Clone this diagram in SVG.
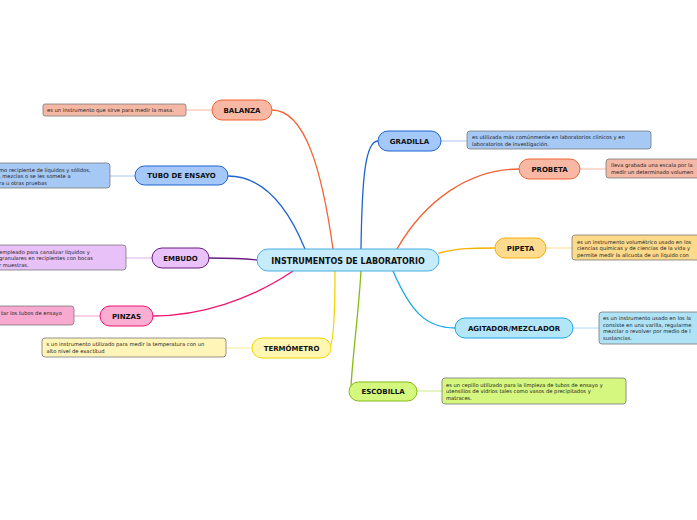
<svg xmlns="http://www.w3.org/2000/svg" width="697" height="520" viewBox="0 0 697 520">
<style>
.bg{fill:#ffffff}
.c{fill:none;stroke-width:1.3;stroke-linecap:round}
.nl{fill:none;stroke-width:1}
.n{stroke-width:1}
.note{stroke:#7a7a7a;stroke-width:0.8}
.t{font-family:"DejaVu Sans",Verdana,sans-serif;font-weight:bold;font-size:7px;fill:#111;text-anchor:middle}
.tc{font-family:"DejaVu Sans",Verdana,sans-serif;font-weight:bold;font-size:8px;fill:#111;text-anchor:middle}
.s{font-family:"DejaVu Sans",Verdana,sans-serif;font-size:5.2px;fill:#222}
</style>
<rect class="bg" x="0" y="0" width="697" height="520"/>
<g id="connectors">
<path class="c" stroke="#f26235" d="M 333 249 C 322 170, 305 110, 272 110"/>
<path class="c" stroke="#1f63d1" d="M 305 249 C 285 200, 260 176, 228 176"/>
<path class="c" stroke="#1f63d1" d="M 361 249 C 362 180, 365 141, 378 141"/>
<path class="c" stroke="#f26235" d="M 397 249 C 425 200, 470 169, 519 169"/>
<path class="c" stroke="#f5b000" d="M 439 253 C 460 248, 470 248, 495 248"/>
<path class="c" stroke="#1ba8e6" d="M 393 271 C 410 310, 425 328, 455 328"/>
<path class="c" stroke="#86bb12" d="M 361 271 C 358 320, 352 360, 351 388"/>
<path class="c" stroke="#f0d500" d="M 335 271 C 335 310, 334 345, 329 348"/>
<path class="c" stroke="#ef1570" d="M 293 271 C 250 300, 200 316, 153 316"/>
<path class="c" stroke="#6a1a80" d="M 257 260 C 240 258, 225 258, 209 258"/>
<line class="nl" stroke="#f7b4a0" x1="186" y1="110" x2="212" y2="110"/>
<line class="nl" stroke="#a6c6f2" x1="110" y1="176" x2="135" y2="176"/>
<line class="nl" stroke="#dab3e8" x1="126" y1="258" x2="152" y2="258"/>
<line class="nl" stroke="#f6a2c8" x1="74" y1="316" x2="100" y2="316"/>
<line class="nl" stroke="#f8ea9a" x1="226" y1="348" x2="252" y2="348"/>
<line class="nl" stroke="#a6c6f2" x1="441" y1="141" x2="467" y2="141"/>
<line class="nl" stroke="#f7b4a0" x1="580" y1="169" x2="606" y2="169"/>
<line class="nl" stroke="#fbdc94" x1="546" y1="248" x2="572" y2="248"/>
<line class="nl" stroke="#a8def2" x1="573" y1="328" x2="599" y2="328"/>
<line class="nl" stroke="#cbe98a" x1="417" y1="391" x2="442" y2="391"/>
</g>
<g id="center">
<rect class="n" x="257" y="249" width="182" height="22" rx="11" fill="#c6ebfa" stroke="#45ade2"/>
<text class="tc" x="348" y="263.8">INSTRUMENTOS DE LABORATORIO</text>
</g>
<g id="balanza">
<rect class="n" x="212" y="100" width="60" height="20" rx="10" fill="#f8b8a3" stroke="#f26235"/>
<text class="t" x="242" y="112.5">BALANZA</text>
<rect class="note" x="43" y="104" width="143" height="12" rx="2" fill="#f5b8a5"/>
<text class="s" x="47" y="111.8">es un instrumento que sirve para medir la masa.</text>
</g>
<g id="tubo">
<rect class="n" x="135" y="166" width="93" height="19" rx="9.5" fill="#a4c8f9" stroke="#1f63d1"/>
<text class="t" x="181.5" y="178">TUBO DE ENSAYO</text>
<rect class="note" x="-10" y="163" width="120" height="25" rx="3" fill="#a6c8f5"/>
<text class="s" x="-1" y="171.5">mo recipiente de líquidos y sólidos,</text>
<text class="s" x="-1" y="178">, mezclas o se les somete a</text>
<text class="s" x="-1" y="184.5">ra u otras pruebas</text>
</g>
<g id="embudo">
<rect class="n" x="152" y="248" width="57" height="20" rx="10" fill="#e8c2f8" stroke="#6a1a80"/>
<text class="t" x="180.5" y="260.5">EMBUDO</text>
<rect class="note" x="-10" y="245" width="136" height="25" rx="3" fill="#e8c1f8"/>
<text class="s" x="-1" y="253.5">empleado para canalizar líquidos y</text>
<text class="s" x="-1" y="260">granulares en recipientes con bocas</text>
<text class="s" x="-1" y="266.5">r muestras.</text>
</g>
<g id="pinzas">
<rect class="n" x="100" y="306" width="53" height="20" rx="10" fill="#fcaed2" stroke="#ef1570"/>
<text class="t" x="126.5" y="318.5">PINZAS</text>
<rect class="note" x="-10" y="306" width="84" height="19" rx="3" fill="#f8a9d0"/>
<text class="s" x="1" y="314.5">tar los tubos de ensayo</text>
</g>
<g id="termometro">
<rect class="n" x="252" y="338" width="79" height="20" rx="10" fill="#fff6b2" stroke="#f0d500"/>
<text class="t" x="291.5" y="350.5">TERMÓMETRO</text>
<rect class="note" x="42" y="338" width="184" height="19" rx="3" fill="#fff5b8"/>
<text class="s" x="46.5" y="346">s un instrumento utilizado para medir la temperatura con un</text>
<text class="s" x="46.5" y="353">alto nivel de exactitud</text>
</g>
<g id="gradilla">
<rect class="n" x="378" y="131" width="63" height="20" rx="10" fill="#a4c8f9" stroke="#1f63d1"/>
<text class="t" x="409.5" y="143.5">GRADILLA</text>
<rect class="note" x="467" y="131" width="184" height="18" rx="3" fill="#a6c8f5"/>
<text class="s" x="472" y="139">es utilizada más comúnmente en laboratorios clínicos y en</text>
<text class="s" x="472" y="145.5">laboratorios de investigación.</text>
</g>
<g id="probeta">
<rect class="n" x="519" y="159" width="61" height="20" rx="10" fill="#f8b8a3" stroke="#f26235"/>
<text class="t" x="549.5" y="171.5">PROBETA</text>
<rect class="note" x="606" y="159" width="110" height="19" rx="3" fill="#f5b8a5"/>
<text class="s" x="611" y="167">lleva grabada una escala por la</text>
<text class="s" x="611" y="173.5">medir un determinado volumen</text>
</g>
<g id="pipeta">
<rect class="n" x="495" y="238" width="51" height="20" rx="10" fill="#fedb8e" stroke="#f5b000"/>
<text class="t" x="520.5" y="250.5">PIPETA</text>
<rect class="note" x="572" y="235" width="140" height="25" rx="3" fill="#fdd98a"/>
<text class="s" x="577" y="243.5">es un instrumento volumétrico usado en los</text>
<text class="s" x="577" y="250">ciencias químicas y de ciencias de la vida y</text>
<text class="s" x="577" y="256.5">permite medir la alícuota de un líquido con</text>
</g>
<g id="agitador">
<rect class="n" x="455" y="318" width="118" height="20" rx="10" fill="#b3e6f8" stroke="#1ba8e6"/>
<text class="t" x="514" y="330.5">AGITADOR/MEZCLADOR</text>
<rect class="note" x="599" y="312" width="110" height="32" rx="3" fill="#b0e2f5"/>
<text class="s" x="603" y="320">es un instrumento usado en los la</text>
<text class="s" x="603" y="326.5">consiste en una varilla, regularme</text>
<text class="s" x="603" y="333">mezclar o revolver por medio de l</text>
<text class="s" x="603" y="339.5">sustancias.</text>
</g>
<g id="escobilla">
<rect class="n" x="349" y="382" width="68" height="19" rx="9.5" fill="#d4f77e" stroke="#86bb12"/>
<text class="t" x="383" y="394">ESCOBILLA</text>
<rect class="note" x="442" y="378" width="184" height="26" rx="3" fill="#d5f77f"/>
<text class="s" x="446" y="386.5">es un cepillo utilizado para la limpieza de tubos de ensayo y</text>
<text class="s" x="446" y="393">utensilios de vidrios tales como vasos de precipitados y</text>
<text class="s" x="446" y="399.5">matraces.</text>
</g>
</svg>
